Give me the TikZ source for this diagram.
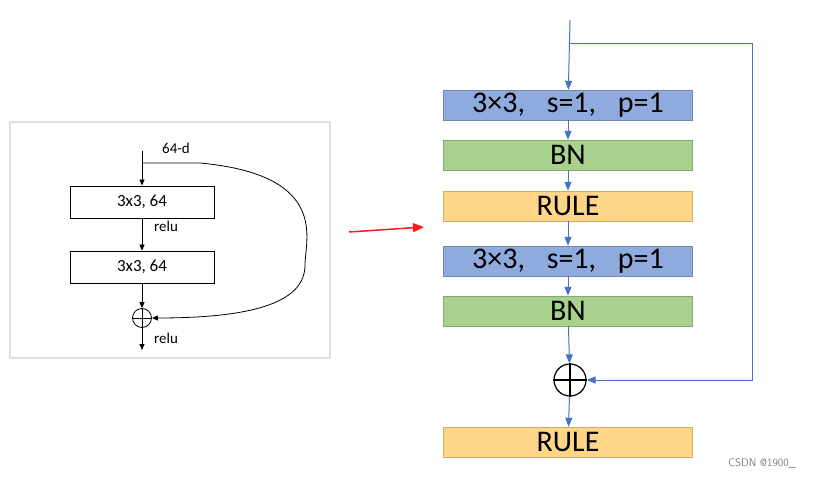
\documentclass[tikz,border=0pt]{standalone}
\usepackage{fontspec}
\setmainfont{Carlito}
\usetikzlibrary{arrows.meta}

\definecolor{convblue}{RGB}{143,170,220}
\definecolor{bngreen}{RGB}{169,209,142}
\definecolor{ruleyellow}{RGB}{255,214,135}
\definecolor{flowblue}{RGB}{68,114,196}

\tikzset{
    layer/.style={draw=#1!80!black, fill=#1, minimum width=249pt, minimum height=30pt, inner sep=0pt, font=\fontsize{30}{30}\selectfont},
    block/.style={draw, thick, minimum width=144pt, minimum height=32pt, inner sep=0pt, font=\fontsize{17}{17}\selectfont},
    flow/.style={flowblue, line width=1pt, -{Triangle[length=9pt,width=7pt]}},
    plain/.style={thick, -{Triangle[length=6pt,width=5pt]}},
    tag/.style={font=\fontsize{15}{15}\selectfont}
}

\begin{document}
\begin{tikzpicture}[x=1pt, y=-1pt]

\useasboundingbox (0,0) rectangle (813,478);

% left panel
\draw[black!12, line width=1.5pt, fill=white] (10,122) rectangle (330,358);
\node[block] (c1) at (142,202) {3x3, 64};
\node[block] (c2) at (142,267) {3x3, 64};
\node[draw, thick, circle, minimum size=19pt, inner sep=0pt] (s1) at (142,318) {};
\draw[thick] (s1.north) -- (s1.south) (s1.west) -- (s1.east);
\coordinate (t1) at (142,151);
\coordinate (b1) at (142,350);
\coordinate (k1) at (142,163);
\node[tag] (d1) at (176,148) {64-d};
\node[tag] (r1) at (166,226) {relu};
\node[tag] (r2) at (166,338) {relu};
\draw[plain] (t1) -- (c1);
\draw[plain] (c1) -- (c2);
\draw[plain] (c2) -- (s1);
\draw[plain] (s1) -- (b1);
\draw[plain] (k1) -- (200,163) .. controls (330,175) and (305,240) .. (305,265)
    .. controls (305,300) and (260,318) .. (s1.east);

% arrow between
\coordinate (a1) at (349,232);
\coordinate (a2) at (424,227);
\draw[red!90, line width=1.5pt, -{Triangle[length=11pt,width=9pt]}] (a1) -- (a2);

% right panel
\node[layer=convblue] (l1) at (568,105) {3×3,\hspace{0.5em} s=1,\hspace{0.5em} p=1};
\node[layer=bngreen] (l2) at (568,155) {BN};
\node[layer=ruleyellow] (l3) at (568,206) {RULE};
\node[layer=convblue] (l4) at (568,261) {3×3,\hspace{0.5em} s=1,\hspace{0.5em} p=1};
\node[layer=bngreen] (l5) at (568,311) {BN};
\node[draw, line width=1.2pt, circle, minimum size=32pt, inner sep=0pt] (s2) at (570,380) {};
\draw[line width=1.2pt] (s2.north) -- (s2.south) (s2.west) -- (s2.east);
\node[layer=ruleyellow] (l6) at (568,442) {RULE};
\coordinate (t2) at (570,20);
\coordinate (k2) at (570,44);
\draw[flow] (t2) -- (l1);
\draw[flow] (l1) -- (l2);
\draw[flow] (l2) -- (l3);
\draw[flow] (l3) -- (l4);
\draw[flow] (l4) -- (l5);
\draw[flow] (l5) -- (s2);
\draw[flow] (s2) -- (l6);
\draw[flow] (k2) -- (752,44) -- (752,380) -- (s2.east);

\node[gray, font=\fontsize{11}{11}\selectfont\sffamily] (wm) at (762,463) {CSDN @1900\_};

\end{tikzpicture}
\end{document}
